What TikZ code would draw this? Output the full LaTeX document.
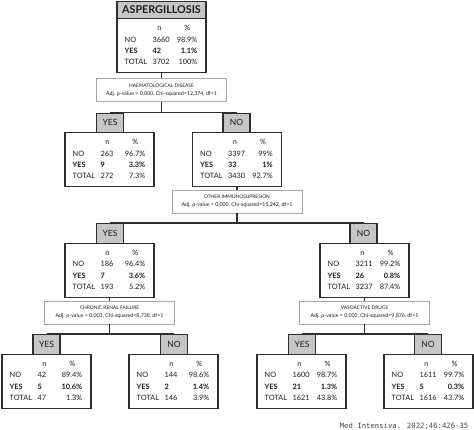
\documentclass[tikz,border=0pt]{standalone}
\usepackage{fontspec}
\setmainfont{Lato}
\newfontfamily\citefont{DejaVu Sans Mono}
\usetikzlibrary{calc}
\definecolor{linec}{HTML}{2E2E2E}
\definecolor{splitc}{HTML}{A8A8A8}
\definecolor{labfill}{HTML}{C6C6C6}
\definecolor{txtc}{HTML}{1E1E1E}
\tikzset{
  stbox/.style={draw=linec, line width=1.1bp, fill=white, minimum width=89bp, minimum height=54bp, inner sep=0pt, anchor=north},
  lbbox/.style={draw=linec, line width=1.1bp, fill=labfill, minimum width=27bp, minimum height=19.5bp, inner sep=0pt, anchor=north, text=txtc, font=\fontsize{8.6}{9}\selectfont},
  ttbox/.style={draw=linec, line width=1.1bp, fill=labfill, minimum width=89bp, minimum height=17.5bp, inner sep=0pt, anchor=north, text=txtc, font=\fontsize{10.8}{11}\selectfont\bfseries},
  spbox/.style={draw=splitc, line width=0.9bp, fill=white, minimum width=130bp, minimum height=23bp, inner sep=0pt, anchor=north},
  cell/.style={inner sep=0pt, text=txtc, font=\fontsize{7.4}{8}\selectfont},
  cellb/.style={inner sep=0pt, text=txtc, font=\fontsize{7.4}{8}\selectfont\bfseries},
  sptop/.style={inner sep=0pt, text=txtc, font=\fontsize{4.9}{5}\selectfont},
  spbot/.style={inner sep=0pt, text=txtc, font=\fontsize{5.3}{6}\selectfont},
  conn/.style={draw=linec, line width=1.1bp},
}
% name, x centre, top, nNO, pNO, nYES, pYES, nTOT, pTOT
\newcommand\statsbox[9]{%
  \node[stbox] (#1) at (#2,#3) {};
  \node[cell, anchor=base] (#1-hn) at ($(#1.north west)+(43,12.5)$) {n};
  \node[cell, anchor=base] (#1-hp) at ($(#1.north west)+(71,12.5)$) {\%};
  \node[cell, anchor=base west] (#1-l1) at ($(#1.north west)+(8,24)$) {NO};
  \node[cell, anchor=base west] (#1-n1) at ($(#1.north west)+(36,24)$) {#4};
  \node[cell, anchor=base east] (#1-p1) at ($(#1.north west)+(81,24)$) {#5};
  \node[cellb, anchor=base west] (#1-l2) at ($(#1.north west)+(8,35.5)$) {YES};
  \node[cellb, anchor=base west] (#1-n2) at ($(#1.north west)+(36,35.5)$) {#6};
  \node[cellb, anchor=base east] (#1-p2) at ($(#1.north west)+(81,35.5)$) {#7};
  \node[cell, anchor=base west] (#1-l3) at ($(#1.north west)+(8,46.5)$) {TOTAL};
  \node[cell, anchor=base west] (#1-n3) at ($(#1.north west)+(36,46.5)$) {#8};
  \node[cell, anchor=base east] (#1-p3) at ($(#1.north west)+(81,46.5)$) {#9};
}
% name, x centre, top, line 1, line 2
\newcommand\splitbox[5]{%
  \node[spbox] (#1) at (#2,#3) {};
  \node[sptop] (#1-a) at ($(#1.north)+(0,7.5)$) {#4};
  \node[spbot] (#1-b) at ($(#1.north)+(0,16)$) {#5};
}
\begin{document}
\begin{tikzpicture}[x=1bp,y=-1bp]
\useasboundingbox (0,0) rectangle (474,429);
% root
\node[ttbox] (title) at (161.5,0.6) {ASPERGILLOSIS};
\statsbox{s0}{161.5}{18.1}{3660}{98.9\%}{42}{1.1\%}{3702}{100\%}
\splitbox{h}{161.5}{78}{HAEMATOLOGICAL DISEASE}{Adj. p-value = 0,000, Chi-squared=12,374, df=1}
% level 1
\node[lbbox] (y1) at (110,112.5) {YES};
\node[lbbox] (n1) at (236.5,112.5) {NO};
\statsbox{s1y}{109.5}{132}{263}{96.7\%}{9}{3.3\%}{272}{7.3\%}
\statsbox{s1n}{237}{132}{3397}{99\%}{33}{1\%}{3430}{92.7\%}
\splitbox{o}{237}{189.5}{OTHER IMMUNOSUPRESION}{Adj. p-value = 0,000, Chi-squared=15,242, df=1}
% level 2
\node[lbbox] (y2) at (110,223) {YES};
\node[lbbox] (n2) at (363.5,223) {NO};
\statsbox{s2y}{109.5}{242.5}{186}{96.4\%}{7}{3.6\%}{193}{5.2\%}
\statsbox{s2n}{364.5}{242.5}{3211}{99.2\%}{26}{0.8\%}{3237}{87.4\%}
\splitbox{c}{109.5}{300.5}{CHRONIC RENAL FAILURE}{Adj. p-value = 0,003, Chi-squared=8,738, df=1}
\splitbox{v}{364.5}{300.5}{VASOACTIVE DRUGS}{Adj. p-value = 0,002, Chi-squared=9,876, df=1}
% level 3
\node[lbbox] (y3a) at (46.5,334) {YES};
\node[lbbox] (n3b) at (174,334) {NO};
\node[lbbox] (y3c) at (302,334) {YES};
\node[lbbox] (n3d) at (428,334) {NO};
\statsbox{s3a}{46.5}{353.5}{42}{89.4\%}{5}{10.6\%}{47}{1.3\%}
\statsbox{s3b}{173.5}{353.5}{144}{98.6\%}{2}{1.4\%}{146}{3.9\%}
\statsbox{s3c}{301.5}{353.5}{1600}{98.7\%}{21}{1.3\%}{1621}{43.8\%}
\statsbox{s3d}{428.5}{353.5}{1611}{99.7\%}{5}{0.3\%}{1616}{43.7\%}
% connectors
\draw[conn] (s0.south) -- (h.north);
\draw[conn] (h.south) -- (h.south |- y1.north);
\draw[conn] (y1.north) -- (n1.north);
\draw[conn] (s1n.south) -- (o.north);
\draw[conn] (o.south) -- (o.south |- y2.north);
\draw[conn] (y2.north) -- (n2.north);
\draw[conn] (s2y.south) -- (c.north);
\draw[conn] (s2n.south) -- (v.north);
\draw[conn] (c.south) -- (c.south |- y3a.north);
\draw[conn] (y3a.north) -- (n3b.north);
\draw[conn] (v.south) -- (v.south |- y3c.north);
\draw[conn] (y3c.north) -- (n3d.north);
% citation
\node[inner sep=0pt, anchor=east, text=black!72, font=\citefont\fontsize{7.3}{8}\selectfont] (cite) at (468.5,426) {Med Intensiva. 2022;46:426-35};
\end{tikzpicture}
\end{document}
